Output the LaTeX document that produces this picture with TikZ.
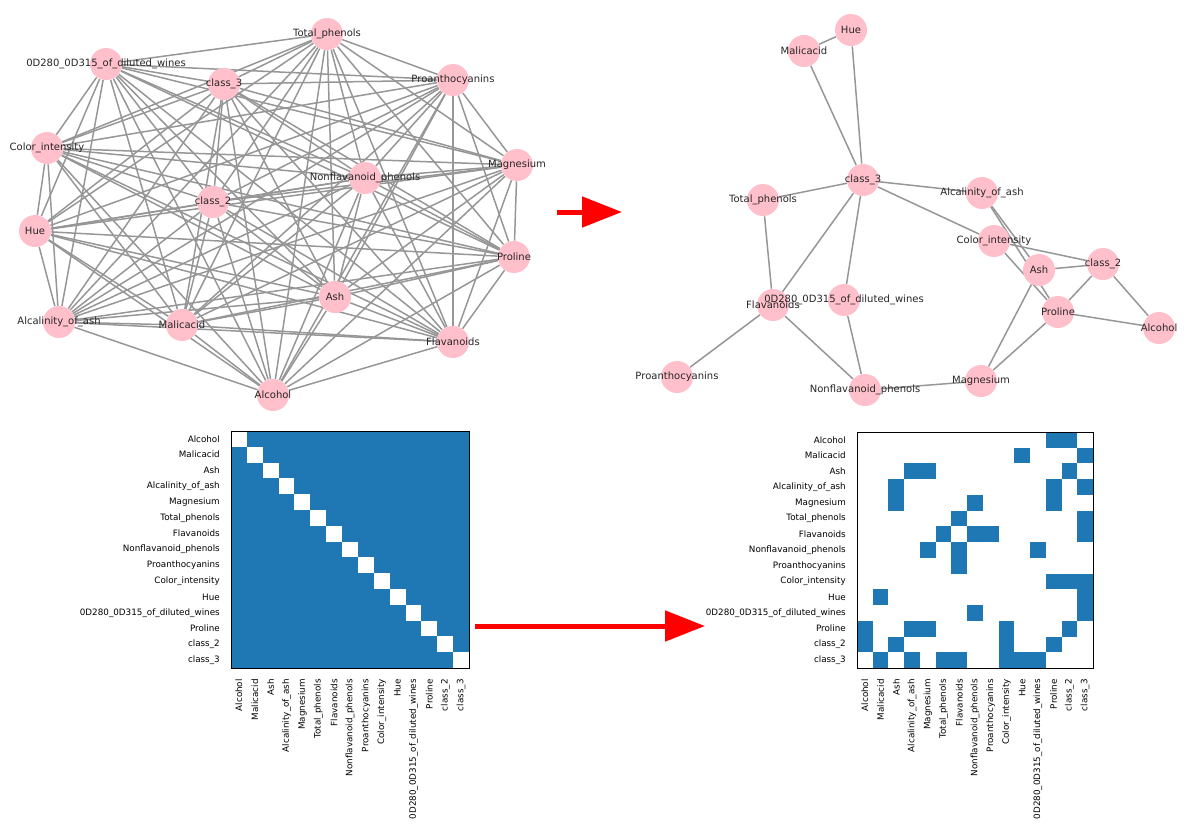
\documentclass[tikz,border=0pt]{standalone}
\usepackage{fontspec}
\setmainfont{DejaVu Sans}
\usepackage{tikz}
\usetikzlibrary{positioning,arrows.meta,backgrounds}
\definecolor{nodepink}{RGB}{255,192,203}
\definecolor{cellblue}{RGB}{31,119,180}
\definecolor{edgegray}{RGB}{150,150,150}
\def\feat{Alcohol,Malicacid,Ash,Alcalinity\_of\_ash,Magnesium,Total\_phenols,Flavanoids,Nonflavanoid\_phenols,Proanthocyanins,Color\_intensity,Hue,0D280\_0D315\_of\_diluted\_wines,Proline,class\_2,class\_3}
\tikzset{
  vert/.style={circle,fill=nodepink,minimum size=32*0.02cm,inner sep=0pt},
  lab/.style={font=\fontsize{5.7}{7}\selectfont,text=black!85},
  edge/.style={draw=edgegray,line width=0.85pt},
  tick/.style={font=\fontsize{5}{6}\selectfont},
  bigarrow/.style={red,line width=5*0.02cm,-{Triangle[length=40*0.02cm,width=30*0.02cm]}}
}
\begin{document}
\begin{tikzpicture}[x=0.02cm,y=-0.02cm]
  \useasboundingbox (0,0) rectangle (1200,833);
  % left graph, all pairs joined
  \foreach \n/\px/\py/\t in {1/273/395/Alcohol,2/182/325/Malicacid,3/335/297/Ash,
      4/59/322/Alcalinity\_of\_ash,5/517/165/Magnesium,6/327/34/Total\_phenols,
      7/453/342/Flavanoids,8/365/178/Nonflavanoid\_phenols,9/453/80/Proanthocyanins,
      10/47/148/Color\_intensity,11/35/231/Hue,12/106/64/0D280\_0D315\_of\_diluted\_wines,
      13/514/257/Proline,14/213/202/class\_2,15/224/84/class\_3}
    \node[vert,label={[lab]center:\t}] (L\n) at (\px,\py) {};
  \begin{scope}[on background layer]
    \foreach \i in {1,...,14} {
      \pgfmathtruncatemacro\k{\i+1}
      \foreach \j in {\k,...,15} \draw[edge] (L\i) -- (L\j);
    }
  \end{scope}
  % right graph
  \foreach \n/\px/\py/\t in {1/1159/328/Alcohol,2/804/51/Malicacid,3/1039/270/Ash,
      4/982/193/Alcalinity\_of\_ash,5/981/381/Magnesium,6/763/200/Total\_phenols,
      7/773/305/Flavanoids,8/865/390/Nonflavanoid\_phenols,9/677/377/Proanthocyanins,
      10/994/241/Color\_intensity,11/851/30/Hue,12/844/300/0D280\_0D315\_of\_diluted\_wines,
      13/1058/312/Proline,14/1103/264/class\_2,15/863/180/class\_3}
    \node[vert,label={[lab]center:\t}] (R\n) at (\px,\py) {};
  \begin{scope}[on background layer]
    \foreach \i/\j in {1/13,1/14,2/11,2/15,3/4,3/5,3/14,4/13,4/15,5/8,5/13,6/7,6/15,
        7/8,7/9,7/15,8/12,10/13,10/14,10/15,11/15,12/15,13/14}
      \draw[edge] (R\i) -- (R\j);
  \end{scope}
  % left matrix: full except diagonal
  \fill[cellblue] (231,431) rectangle (469,668);
  \foreach \t [count=\i from 0] in \feat {
    \fill[white] (231+\i*15.87,431+\i*15.8) rectangle ++(15.87,15.8);
    \node[tick,anchor=east] (ML\i) at (226,431+\i*15.8+7.9) {\t};
    \node[tick,anchor=east,rotate=90] (MLc\i) at (231+\i*15.87+7.9,673) {\t};
  }
  \draw[line width=0.4pt] (231,431) rectangle (469,668);
  % right matrix: kept links
  \foreach \r/\c in {0/12,0/13,1/10,1/14,2/3,2/4,2/13,3/2,3/12,3/14,4/2,4/7,4/12,
      5/6,5/14,6/5,6/7,6/8,6/14,7/4,7/6,7/11,8/6,9/12,9/13,9/14,10/1,10/14,11/7,11/14,
      12/0,12/3,12/4,12/9,12/13,13/0,13/2,13/9,13/12,14/1,14/3,14/5,14/6,14/9,14/10,14/11}
    \fill[cellblue] (857+\c*15.73,432+\r*15.73) rectangle ++(15.73,15.73);
  \foreach \t [count=\i from 0] in \feat {
    \node[tick,anchor=east] (MR\i) at (852,432+\i*15.73+7.9) {\t};
    \node[tick,anchor=east,rotate=90] (MRc\i) at (857+\i*15.73+7.9,673) {\t};
  }
  \draw[line width=0.4pt] (857,432) rectangle (1093,668);
  % arrows between panels
  \coordinate (a1) at (557,212);
  \coordinate (a2) at (622,212);
  \coordinate (b1) at (475,626);
  \coordinate (b2) at (705,626);
  \draw[bigarrow] (a1) -- (a2);
  \draw[bigarrow] (b1) -- (b2);
\end{tikzpicture}
\end{document}
